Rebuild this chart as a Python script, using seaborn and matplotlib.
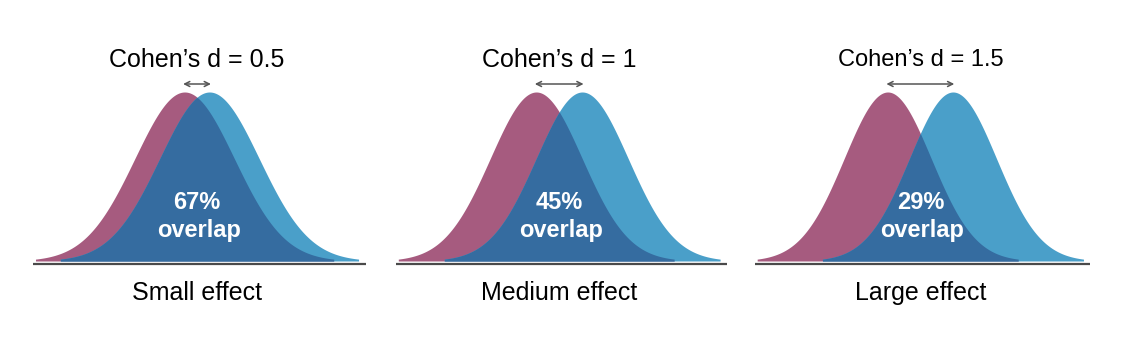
import numpy as np
import matplotlib
matplotlib.use("Agg")
import matplotlib.pyplot as plt
import seaborn as sns
import pandas as pd

# ---- data ----
cohens_d = [0.5, 1.0, 1.5]
overlap_pct = [67, 45, 29]
titles = ["Cohen\u2019s d = 0.5", "Cohen\u2019s d = 1", "Cohen\u2019s d = 1.5"]
effect_labels = ["Small effect", "Medium effect", "Large effect"]

PINK = "#a65b7f"
BLUE = "#4a9fc9"
DARK = "#356ca0"
LINE = "#4a4a4a"

sns.set_theme(style="white")
plt.rcParams["font.family"] = ["Liberation Sans", "DejaVu Sans"]

W, H = 1123, 351
fig = plt.figure(figsize=(W / 100, H / 100), dpi=100)

panel_px = [(33, 366), (396, 727), (755, 1090)]
title_sizes = [18, 18, 17]

fill_base_px = 261.0
peak_px = 92.0
scale = (fill_base_px - peak_px) / 0.39894  # px per density unit
ax_top_px, ax_bot_px = 40, 310
ylim = (-(ax_bot_px - fill_base_px) / scale, (fill_base_px - ax_top_px) / scale)


def pdf(x, mu):
    return np.exp(-0.5 * (x - mu) ** 2) / np.sqrt(2 * np.pi)


for i, d in enumerate(cohens_d):
    l, r = panel_px[i]
    ax = fig.add_axes([l / W, 1 - ax_bot_px / H, (r - l) / W, (ax_bot_px - ax_top_px) / H])
    xlim = (-3.05, d + 3.15)

    xa = np.linspace(-3, 3, 400)
    xb = np.linspace(d - 3, d + 3, 400)
    ya = pdf(xa, 0)
    yb = pdf(xb, d)
    xo = np.linspace(d - 3, 3, 400)
    yo = np.minimum(pdf(xo, 0), pdf(xo, d))

    df = pd.DataFrame({"x": np.concatenate([xa, xb]),
                       "y": np.concatenate([ya, yb]),
                       "g": ["a"] * len(xa) + ["b"] * len(xb)})
    sns.lineplot(data=df, x="x", y="y", hue="g", palette={"a": PINK, "b": BLUE},
                 linewidth=0, legend=False, ax=ax, sort=False, zorder=0.5)
    ax.fill_between(xa, 0, ya, color=PINK, lw=0, zorder=1)
    ax.fill_between(xb, 0, yb, color=BLUE, lw=0, zorder=1.1)
    ax.fill_between(xo, 0, yo, color=DARK, lw=0, zorder=1.2)
    ax.set_xlim(*xlim)
    ax.set_ylim(*ylim)
    ax.axis("off")

    # baseline
    yline = -(264 - fill_base_px) / scale
    ax.plot(xlim, [yline, yline], color=LINE, lw=1.6, solid_capstyle="butt", clip_on=False)

    # arrow between means
    ya_px = 84
    yarr = (fill_base_px - ya_px) / scale
    ax.annotate("", xy=(d + 0.03, yarr), xytext=(-0.03, yarr),
                arrowprops=dict(arrowstyle="<->", color="#555555", lw=1.1,
                                shrinkA=0, shrinkB=0, mutation_scale=9),
                annotation_clip=False)

    mid = d / 2
    ax.text(mid, (fill_base_px - 60) / scale, titles[i], ha="center", va="center",
            fontsize=title_sizes[i], color="black", clip_on=False)
    ax.text(mid, (fill_base_px - 202) / scale, f"{overlap_pct[i]}%", ha="center", va="center",
            fontsize=17, fontweight="bold", color="white", zorder=3)
    ax.text(mid + 0.05, (fill_base_px - 230) / scale, "overlap", ha="center", va="center",
            fontsize=17, fontweight="bold", color="white", zorder=3)
    ax.text(mid, (fill_base_px - 293) / scale, effect_labels[i], ha="center", va="center",
            fontsize=18, color="black", clip_on=False)

fig.savefig("out.png", dpi=100, facecolor="white")
